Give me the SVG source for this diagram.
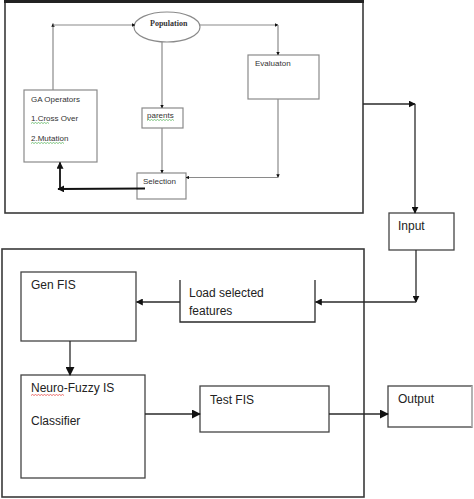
<svg xmlns="http://www.w3.org/2000/svg" width="474" height="499" viewBox="0 0 474 499">
<style>
.frame{fill:none;stroke:#3a3a3a;stroke-width:1.6}
.tbox{fill:#fff;stroke:#8a8a8a;stroke-width:1.2}
.bbox{fill:#fff;stroke:#444;stroke-width:1.3}
.tl{fill:none;stroke:#8a8a8a;stroke-width:1.2}
.bl{fill:none;stroke:#2a2a2a;stroke-width:1.3}
.tk{fill:none;stroke:#111;stroke-width:1.8}
.st{font-family:"Liberation Sans",Arial,sans-serif;font-size:8px;fill:#333}
.bt{font-family:"Liberation Sans",Arial,sans-serif;font-size:12px;fill:#222}
.pop{font-family:"Liberation Serif","Times New Roman",serif;font-size:8px;font-weight:bold;fill:#333}
.sq{fill:none;stroke-width:0.7}
</style>
<defs>
<marker id="as" viewBox="0 0 10 10" refX="9" refY="5" markerWidth="3.5" markerHeight="3.5" orient="auto" markerUnits="userSpaceOnUse"><path d="M0,0L10,5L0,10z" fill="#111"/></marker>
<marker id="am" viewBox="0 0 10 10" refX="9" refY="5" markerWidth="7" markerHeight="7" orient="auto" markerUnits="userSpaceOnUse"><path d="M0,0L10,5L0,10z" fill="#111"/></marker>
<marker id="al" viewBox="0 0 10 10" refX="9" refY="5" markerWidth="9" markerHeight="9" orient="auto" markerUnits="userSpaceOnUse"><path d="M0,0L10,5L0,10z" fill="#111"/></marker>
</defs>

<g id="ga-frame">
<rect class="frame" x="5" y="1.5" width="358" height="211.5"/>
<line x1="4" y1="1.5" x2="364" y2="1.5" stroke="#222" stroke-width="3"/>
</g>
<g id="io-frame">
<rect class="frame" x="2" y="249" width="362" height="248"/>
</g>

<g id="population">
<ellipse cx="167" cy="27" rx="33" ry="15" fill="#fff" stroke="#8a8a8a" stroke-width="1.2"/>
<text class="pop" x="150" y="26">Population</text>
</g>
<g id="evaluation">
<rect class="tbox" x="248" y="55" width="71" height="44"/>
<text class="st" x="255" y="66">Evaluaton</text>
</g>
<g id="ga-operators">
<rect class="tbox" x="24" y="90" width="73" height="72"/>
<text class="st" x="31" y="102">GA Operators</text>
<text class="st" x="31" y="121">1.Cross Over</text>
<text class="st" x="31" y="141">2.Mutation</text>
<path class="sq" stroke="#4caf50" d="M31,123.5 l1.5,-1 l1.5,1 l1.5,-1 l1.5,1 l1.5,-1 l1.5,1 l1.5,-1 l1.5,1 l1.5,-1 l1.5,1 l1.5,-1 l1.5,1"/>
<path class="sq" stroke="#4caf50" d="M31,143.5 l1.5,-1 l1.5,1 l1.5,-1 l1.5,1 l1.5,-1 l1.5,1 l1.5,-1 l1.5,1 l1.5,-1 l1.5,1 l1.5,-1 l1.5,1 l1.5,-1 l1.5,1 l1.5,-1 l1.5,1 l1.5,-1 l1.5,1 l1.5,-1 l1.5,1 l1.5,-1 l1.5,1"/>
</g>
<g id="parents">
<rect class="tbox" x="142" y="108" width="41" height="20"/>
<text class="st" x="147" y="118">parents</text>
<path class="sq" stroke="#4caf50" d="M147,120.5 l1.5,-1 l1.5,1 l1.5,-1 l1.5,1 l1.5,-1 l1.5,1 l1.5,-1 l1.5,1 l1.5,-1 l1.5,1 l1.5,-1 l1.5,1 l1.5,-1 l1.5,1 l1.5,-1 l1.5,1 l1.5,-1 l1.5,1"/>
</g>
<g id="selection">
<rect class="tbox" x="137" y="173" width="49" height="26"/>
<text class="st" x="143" y="184">Selection</text>
</g>

<g id="input">
<rect class="bbox" x="389" y="213" width="65" height="37"/>
<text class="bt" x="398" y="230">Input</text>
</g>
<g id="load-features">
<path class="bl" d="M180,280 V322 H315 V280"/>
<text class="bt" x="189" y="297">Load selected</text>
<text class="bt" x="189" y="315">features</text>
</g>
<g id="gen-fis">
<rect class="bbox" x="21" y="272" width="115" height="69"/>
<text class="bt" x="31" y="289">Gen FIS</text>
</g>
<g id="neuro-fuzzy">
<rect class="bbox" x="21" y="375" width="124" height="103"/>
<text class="bt" x="31" y="392">Neuro-Fuzzy IS</text>
<path class="sq" stroke="#e53935" d="M31,395.5 l1.5,-1 l1.5,1 l1.5,-1 l1.5,1 l1.5,-1 l1.5,1 l1.5,-1 l1.5,1 l1.5,-1 l1.5,1 l1.5,-1 l1.5,1 l1.5,-1 l1.5,1 l1.5,-1 l1.5,1 l1.5,-1 l1.5,1 l1.5,-1 l1.5,1 l1.5,-1 l1.5,1"/>
<text class="bt" x="31" y="425">Classifier</text>
</g>
<g id="test-fis">
<rect class="bbox" x="200" y="386" width="129" height="46"/>
<text class="bt" x="210" y="404">Test FIS</text>
</g>
<g id="output">
<rect class="bbox" x="388" y="386" width="84" height="41"/>
<line x1="472" y1="386" x2="472" y2="427" stroke="#ccc" stroke-width="1.3"/>
<text class="bt" x="398" y="403">Output</text>
</g>

<g id="connectors">
<polyline class="tl" points="53,90 53,23.5" marker-end="url(#as)"/>
<polyline class="tl" points="53,25 135,25" marker-end="url(#as)"/>
<polyline class="tl" points="200,25 278,25" marker-end="url(#as)"/>
<polyline class="tl" points="278,25 278,55" marker-end="url(#as)"/>
<polyline class="tl" points="162,42 162,108" marker-end="url(#as)"/>
<polyline class="tl" points="162,128 162,173" marker-end="url(#as)"/>
<polyline class="tl" points="278,99 278,177.5" marker-end="url(#as)"/>
<polyline class="tl" points="278,177.5 186,177.5" marker-end="url(#as)"/>
<polyline class="tk" points="145,188.5 58,189" marker-end="url(#am)"/>
<polyline class="tk" points="60,189 60,162.5" marker-end="url(#am)"/>
<polyline class="bl" points="363,104 415,104" marker-end="url(#am)"/>
<polyline class="bl" points="415,104 415,213" marker-end="url(#am)"/>
<polyline class="bl" points="416,250 416,302" marker-end="url(#am)"/>
<polyline class="bl" points="416,302 315.5,302" marker-end="url(#am)"/>
<polyline class="bl" points="180,302 136.5,302" marker-end="url(#am)"/>
<polyline class="bl" points="70,341 70,375" marker-end="url(#al)"/>
<polyline class="bl" points="145,414 200,414" marker-end="url(#al)"/>
<polyline class="bl" points="329,414 388,414" marker-end="url(#al)"/>
</g>
</svg>
